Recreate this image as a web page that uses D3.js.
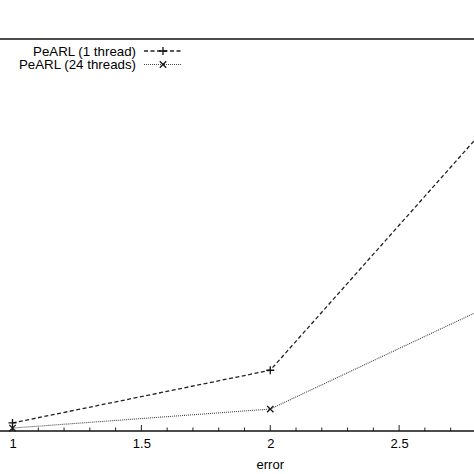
<!DOCTYPE html>
<meta charset="utf-8">
<head>
	<title>PeARL error</title>
</head>
<style>
body{
	margin: 0;
	background: #fff;
}
svg{
	display: block;
	font-family: "Liberation Sans", Arial, sans-serif;
}
.tick text{
	font-size: 13px;
}
</style>
<body>
<svg width="474" height="474"></svg>
<script src="https://cdnjs.cloudflare.com/ajax/libs/d3/7.8.5/d3.min.js"></script>
<script>

// data (y in arbitrary units, no y labels visible)
var errors = [1, 2, 3];
var oneThread = [8.2, 62, 358];
var twentyFourThreads = [3, 22.4, 146];
var xTicks = [1, 1.5, 2, 2.5];
var seriesNames = ['PeARL (1 thread)', 'PeARL (24 threads)'];

var svg = d3.select('svg');

var x = d3.scaleLinear().domain([1, 3]).range([12.5, 528]);
var y = d3.scaleLinear().domain([0, 400]).range([431, 39]);

// frame: top border
svg.append('line')
	.attr('x1', 0).attr('x2', 474)
	.attr('y1', y(400)).attr('y2', y(400))
	.attr('stroke', '#111').attr('stroke-width', 1.5);

var axis = d3.axisBottom(x)
	.tickValues(xTicks)
	.tickSize(0)
	.tickPadding(8)
	.tickFormat(d3.format('~g'));

var gx = svg.append('g')
	.attr('transform', 'translate(0,' + y(0) + ')')
	.call(axis);
gx.select('.domain').remove();
gx.selectAll('.tick text').attr('fill', '#000');

// major and minor ticks pointing inward
var minor = d3.range(1, 3.001, 0.1);
svg.selectAll('.minor')
	.data(minor)
	.enter()
	.append('line')
	.attr('x1', function(d){ return x(d); })
	.attr('x2', function(d){ return x(d); })
	.attr('y1', y(0))
	.attr('y2', function(d){
		return xTicks.some(function(t){ return Math.abs(t - d) < 1e-6; }) ? y(0) - 6 : y(0) - 3.5;
	})
	.attr('stroke', '#222')
	.attr('stroke-width', 1);

svg.append('line')
	.attr('x1', 0).attr('x2', 474)
	.attr('y1', y(0)).attr('y2', y(0))
	.attr('stroke', '#111').attr('stroke-width', 1.5);

svg.append('text')
	.attr('x', x(2))
	.attr('y', 469)
	.attr('text-anchor', 'middle')
	.attr('font-size', 13)
	.attr('fill', '#000')
	.text('error');

var line = d3.line()
	.x(function(d, i){ return x(errors[i]); })
	.y(function(d){ return y(d); });

var styles = [
	{ data: oneThread, dash: '4,2.5', width: 1.3, color: '#222', marker: 'plus' },
	{ data: twentyFourThreads, dash: '1,1', width: 1.1, color: '#444', marker: 'cross' }
];

function drawMarker(g, type, cx, cy, s){
	if(type === 'plus'){
		g.append('path')
			.attr('d', 'M' + (cx - s) + ',' + cy + 'H' + (cx + s) + 'M' + cx + ',' + (cy - s) + 'V' + (cy + s));
	} else {
		g.append('path')
			.attr('d', 'M' + (cx - s) + ',' + (cy - s) + 'L' + (cx + s) + ',' + (cy + s) +
				'M' + (cx - s) + ',' + (cy + s) + 'L' + (cx + s) + ',' + (cy - s));
	}
}

styles.forEach(function(s){
	svg.append('path')
		.datum(s.data)
		.attr('d', line)
		.attr('fill', 'none')
		.attr('stroke', s.color)
		.attr('stroke-width', s.width)
		.attr('stroke-dasharray', s.dash);

	var gm = svg.append('g').attr('stroke', '#111').attr('stroke-width', 1.3).attr('fill', 'none');
	s.data.forEach(function(d, i){
		drawMarker(gm, s.marker, x(errors[i]), y(d), s.marker === 'plus' ? 4 : 3.2);
	});
});

// legend
var legend = svg.append('g');
seriesNames.forEach(function(name, i){
	var ly = 51 + i * 13.5;
	legend.append('text')
		.attr('x', 136)
		.attr('y', ly + 4.5)
		.attr('text-anchor', 'end')
		.attr('font-size', 13.3)
		.attr('fill', '#000')
		.text(name);
	legend.append('line')
		.attr('x1', 144).attr('x2', 182)
		.attr('y1', ly).attr('y2', ly)
		.attr('stroke', styles[i].color)
		.attr('stroke-width', styles[i].width)
		.attr('stroke-dasharray', styles[i].dash);
	var gm = legend.append('g').attr('stroke', '#111').attr('stroke-width', 1.3).attr('fill', 'none');
	drawMarker(gm, styles[i].marker, 163, ly, styles[i].marker === 'plus' ? 4 : 3.2);
});

</script>
</body>
</html>
